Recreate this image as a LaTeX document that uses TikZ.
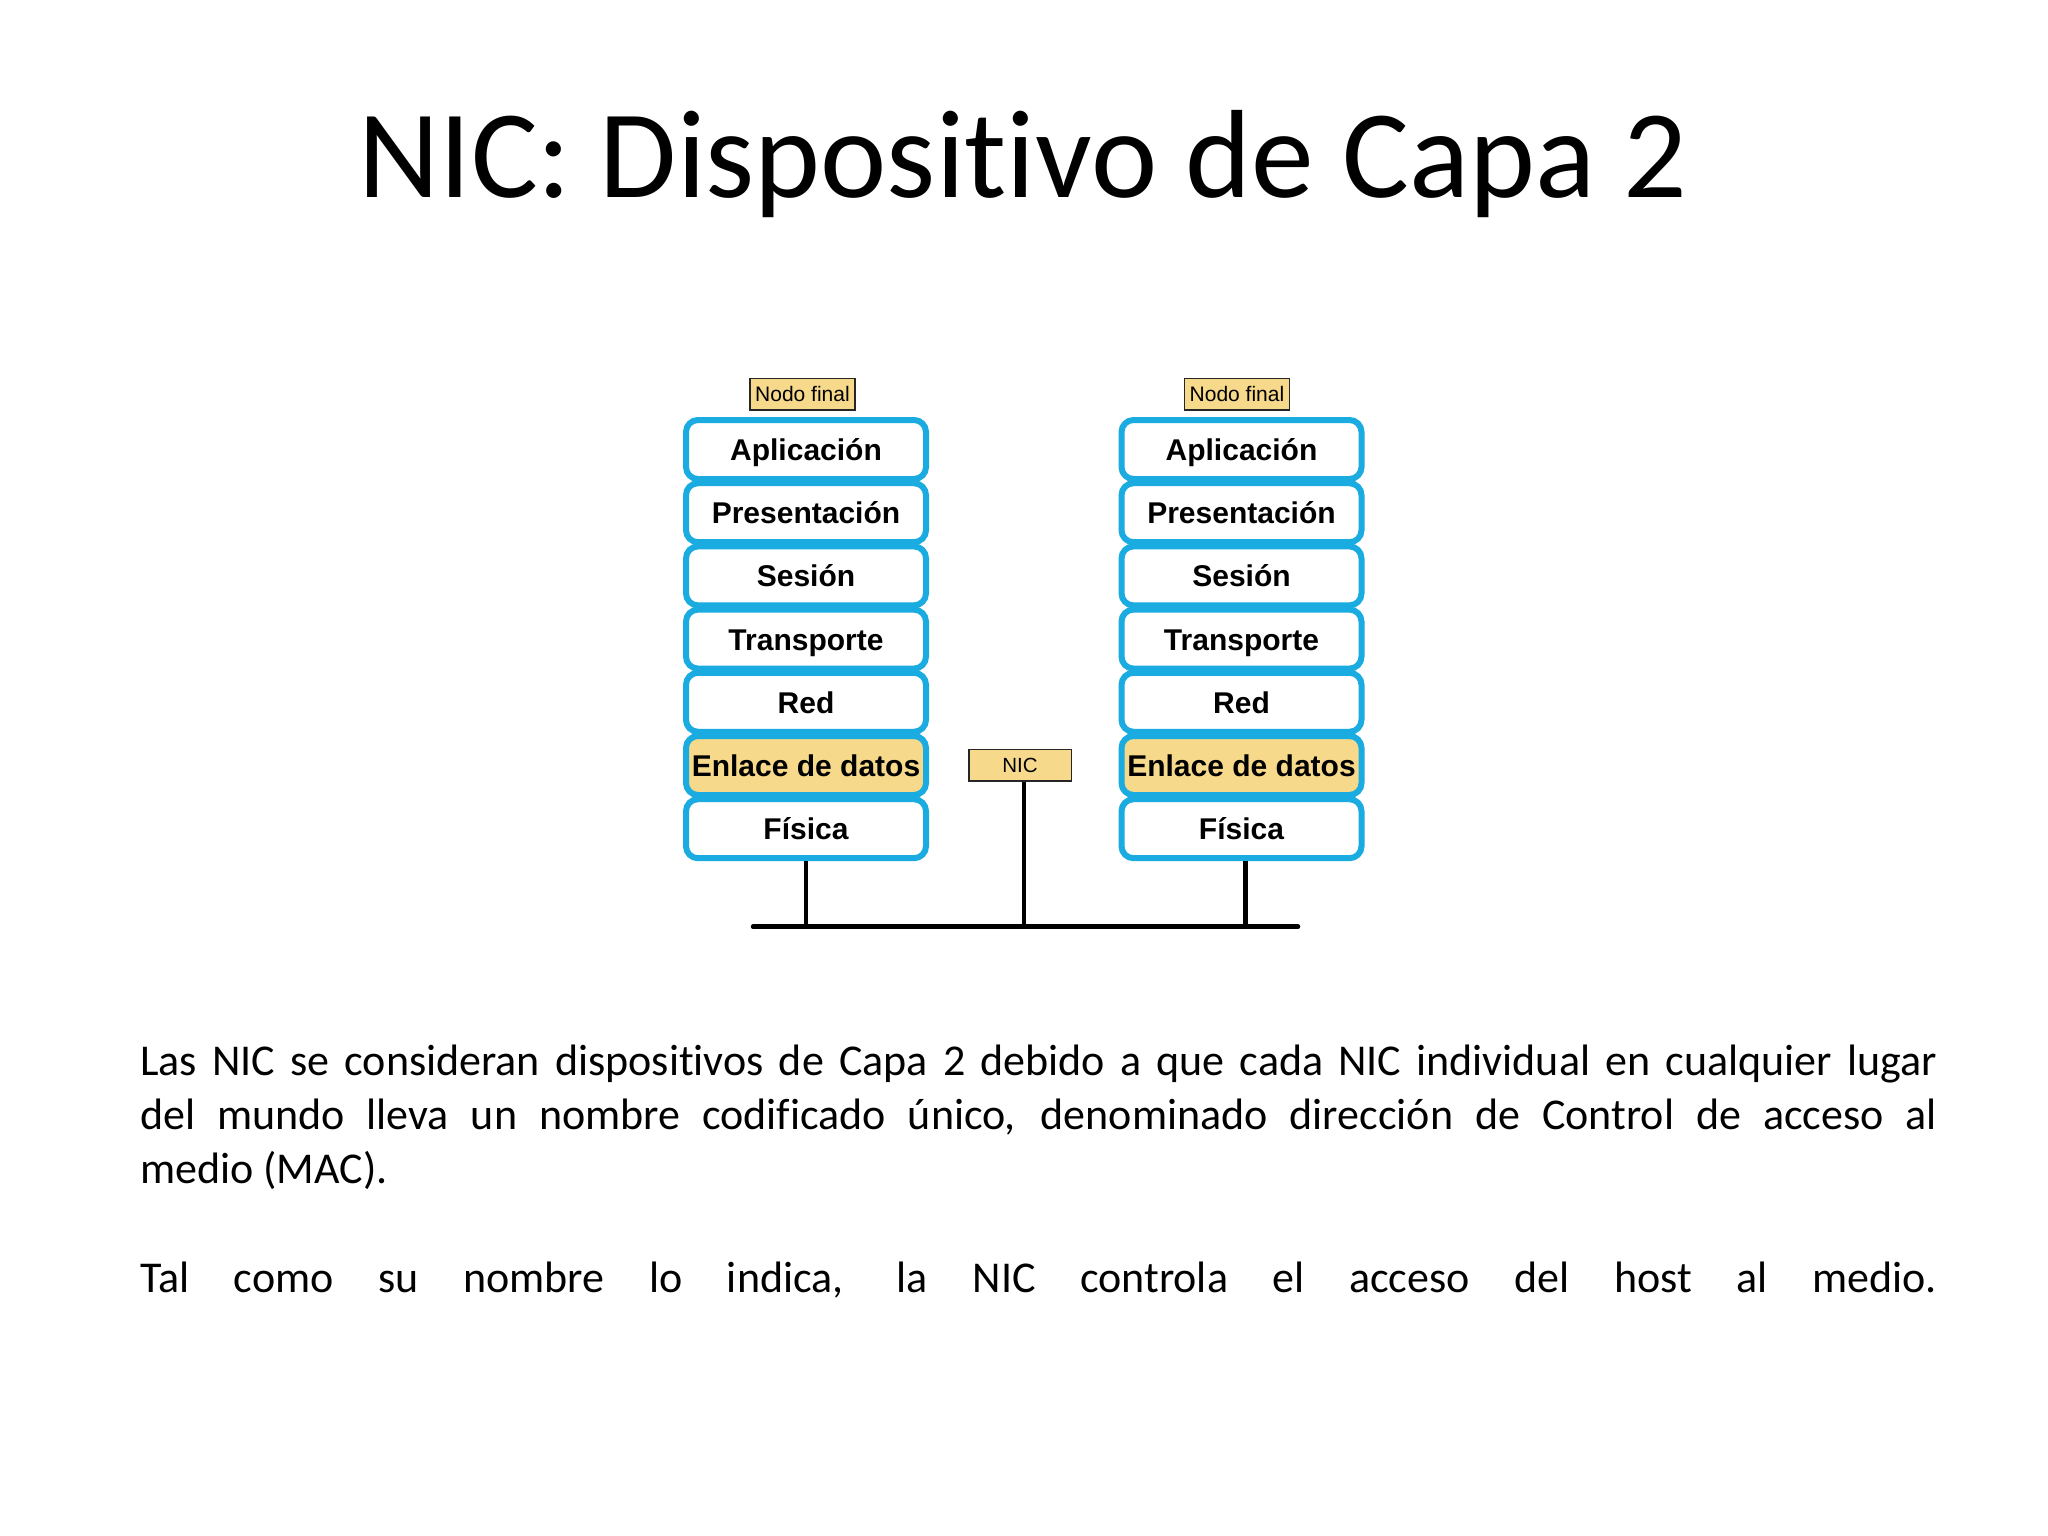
\documentclass[tikz,border=0pt]{standalone}
\usepackage{fontspec}
\setmainfont{Carlito}[Ligatures=NoCommon]
\newfontfamily\arialfont{Liberation Sans}[Ligatures=NoCommon]
\definecolor{osiblue}{HTML}{1AABE0}
\definecolor{layeryellow}{HTML}{F6D98A}
\tikzset{
  layer/.style={draw=osiblue, line width=6pt, rounded corners=12pt, fill=white,
    minimum width=240pt, minimum height=59pt, inner sep=0pt,
    text height=22pt, text depth=0pt,
    font=\arialfont\bfseries\fontsize{30}{36}\selectfont},
  datalayer/.style={layer, fill=layeryellow},
  tagbox/.style={draw=black!85, line width=1.5pt, fill=layeryellow, inner sep=0pt,
    minimum width=105pt, minimum height=31.5pt, text height=15pt, text depth=0pt,
    font=\arialfont\fontsize{21}{25}\selectfont},
  wire/.style={line width=4.5pt, black},
  bodyline/.style={anchor=base west, inner sep=0pt, font=\fontsize{44}{54}\selectfont}
}
\begin{document}
\begin{tikzpicture}[x=1pt,y=-1pt]
\fill[white] (0,0) rectangle (2048,1536);
\useasboundingbox (0,0) rectangle (2048,1536);

% title
\node[anchor=base, inner sep=0pt, font=\fontsize{125.5}{150}\selectfont] (title) at (1023,197) {NIC: Dispositivo de Capa 2};

% left stack
\node[tagbox] (tagL) at (802.5,394) {Nodo final};
\node[layer] (apL) at (806,449.5) {Aplicación};
\node[layer] (prL) at (806,512.7) {Presentación};
\node[layer] (seL) at (806,575.9) {Sesión};
\node[layer] (trL) at (806,639.1) {Transporte};
\node[layer] (reL) at (806,702.3) {Red};
\node[datalayer] (enL) at (806,765.5) {Enlace de datos};
\node[layer] (fiL) at (806,828.7) {Física};

% right stack
\node[tagbox] (tagR) at (1237,394) {Nodo final};
\node[layer] (apR) at (1241.5,449.5) {Aplicación};
\node[layer] (prR) at (1241.5,512.7) {Presentación};
\node[layer] (seR) at (1241.5,575.9) {Sesión};
\node[layer] (trR) at (1241.5,639.1) {Transporte};
\node[layer] (reR) at (1241.5,702.3) {Red};
\node[datalayer] (enR) at (1241.5,765.5) {Enlace de datos};
\node[layer] (fiR) at (1241.5,828.7) {Física};

% NIC
\node[tagbox, minimum width=102.5pt, text height=14pt, font=\arialfont\fontsize{20.5}{24}\selectfont] (nic) at (1020,765) {NIC};

% bus
\coordinate (busL) at (753,926.7);
\coordinate (busR) at (1298,926.7);
\draw[wire, line cap=round] (busL) -- (busR);
\draw[wire] (fiL.south) -- (fiL.south |- busL);
\draw[wire] ([xshift=4pt]fiR.south) -- ([xshift=4pt]fiR.south |- busL);
\draw[wire] ([xshift=4pt]nic.south) -- ([xshift=4pt]nic.south |- busL);

% body text
\node[bodyline] (p1) at (140,1075) {\makebox[1797pt][s]{Las NIC se consideran dispositivos de Capa 2 debido a que cada NIC individual en cualquier lugar}};
\node[bodyline] (p2) at (140,1129) {\makebox[1797pt][s]{del mundo lleva un nombre codificado único, denominado dirección de Control de acceso al}};
\node[bodyline] (p3) at (140,1183) {medio (MAC).};
\node[bodyline] (p4) at (140,1292) {\makebox[1797pt][s]{Tal como su nombre lo indica, la NIC controla el acceso del host al medio.}};
\end{tikzpicture}
\end{document}
